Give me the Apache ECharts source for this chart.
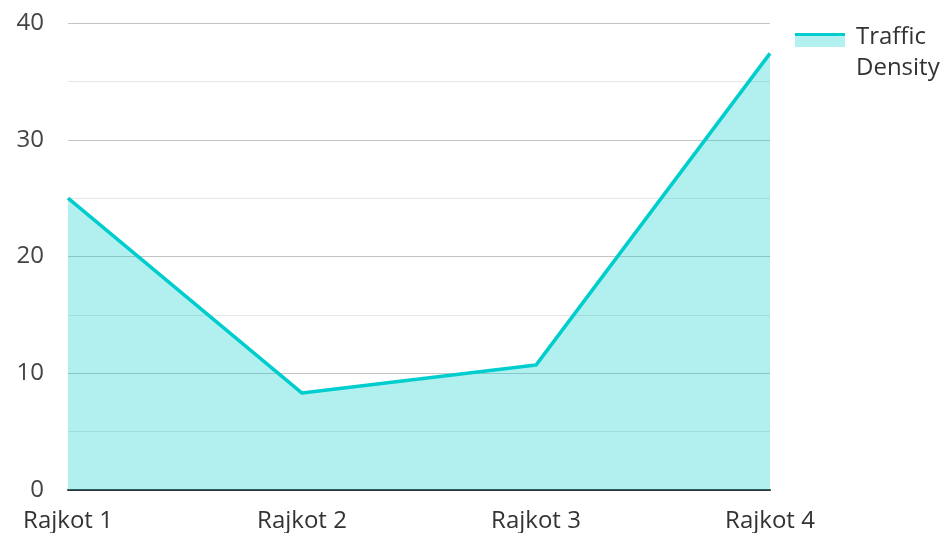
<!DOCTYPE html>
<html><head><meta charset="utf-8">
<script src="https://cdn.jsdelivr.net/npm/echarts@6/dist/echarts.min.js"></script>
<style>html,body{margin:0;padding:0;background:#fff}#c{width:944px;height:533px}</style>
</head><body><div id="c"></div>
<script>
const categories = ['Rajkot 1', 'Rajkot 2', 'Rajkot 3', 'Rajkot 4'];
const trafficDensity = [25, 8.3, 10.7, 37.4];
const seriesName = 'Traffic Density';
const yTicks = [0, 10, 20, 30, 40];

const chart = echarts.init(document.getElementById('c'));
const font = '"Open Sans", "Noto Sans", sans-serif';
chart.setOption({
  animation: false,
  textStyle: { fontFamily: font },
  grid: { left: 68, right: 174, top: 23, bottom: 43 },
  legend: {
    left: 790, top: 17,
    itemWidth: 55, itemHeight: 14,
    itemStyle: { opacity: 0 }, lineStyle: { opacity: 0 },
    formatter: () => 'Traffic\nDensity',
    textStyle: { fontSize: 24, color: '#333', lineHeight: 31, fontFamily: font }
  },
  graphic: [
    { type: 'rect', left: 795, top: 33, shape: { width: 50, height: 14 }, style: { fill: '#b3f0f0' } },
    { type: 'rect', left: 795, top: 33, shape: { width: 50, height: 3 }, style: { fill: '#00cdcd' } }
  ],
  xAxis: {
    type: 'category', data: categories, boundaryGap: false,
    axisLine: { lineStyle: { color: '#333', width: 2 } },
    axisTick: { show: false },
    axisLabel: { fontSize: 24, color: '#333', margin: 19, fontFamily: font },
    splitLine: { show: false }
  },
  yAxis: {
    type: 'value', min: yTicks[0], max: yTicks[yTicks.length - 1], interval: 10,
    axisLine: { show: false }, axisTick: { show: false },
    axisLabel: { fontSize: 24, color: '#444', margin: 24, fontFamily: font },
    splitLine: { lineStyle: { color: '#c4c4c4', width: 1 } },
    minorTick: { show: false, splitNumber: 2 },
    minorSplitLine: { show: true, lineStyle: { color: '#e6e6e6', width: 1 } }
  },
  series: [{
    name: seriesName, type: 'line', data: trafficDensity,
    symbol: 'none', z: 1,
    lineStyle: { color: '#00cdcd', width: 3.5 },
    itemStyle: { color: '#00cdcd' },
    areaStyle: { color: '#00cccc', opacity: 0.3 }
  }]
});
</script></body></html>
